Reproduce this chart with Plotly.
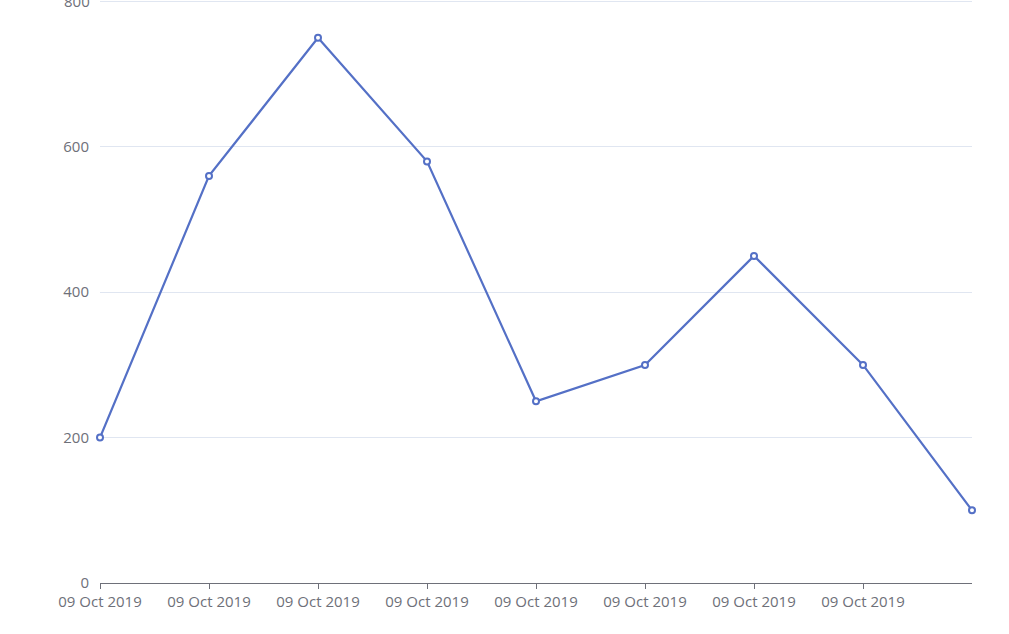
from plotly import graph_objects as go

CONFIG = {"displayModeBar": False}

LINE_BLUE = "#5470C6"
AXIS_GRAY = "#6E7079"
GRID_GRAY = "#E0E6F1"
WHITE = "#FFFFFF"
FONT_SIZE = 15

# Data
positions = [0, 1, 2, 3, 4, 5, 6, 7, 8]
values = [200, 560, 750, 580, 250, 300, 450, 300, 100]
tick_positions = [0, 1, 2, 3, 4, 5, 6, 7]
tick_labels = ["09 Oct 2019"] * 8
y_ticks = [0, 200, 400, 600, 800]

fig = go.Figure()
fig.add_trace(
    go.Scatter(
        x=positions,
        y=values,
        mode="lines+markers",
        line=dict(color=LINE_BLUE, width=2.2),
        marker=dict(
            symbol="circle",
            size=6,
            color=WHITE,
            line=dict(color=LINE_BLUE, width=2),
        ),
        cliponaxis=False,
        showlegend=False,
    )
)

fig.update_xaxes(
    range=[0, 8],
    tickmode="array",
    tickvals=tick_positions,
    ticktext=tick_labels,
    ticks="outside",
    ticklen=5,
    tickcolor=AXIS_GRAY,
    showline=True,
    linecolor=AXIS_GRAY,
    linewidth=1,
    showgrid=False,
    zeroline=False,
    tickfont=dict(size=FONT_SIZE, color=AXIS_GRAY),
)
# top of range nudged just past 800 so its grid line is kept
fig.update_yaxes(
    range=[0, 802],
    tickmode="array",
    tickvals=y_ticks,
    showgrid=True,
    gridcolor=GRID_GRAY,
    gridwidth=1,
    showline=False,
    zeroline=False,
    ticks="",
    ticklabelstandoff=10,
    tickfont=dict(size=FONT_SIZE, color=AXIS_GRAY),
)

# plotly drops the 800 label at the page edge, so place it by hand
# (the reference shows it half cut off at the top as well)
fig.add_annotation(
    text=str(y_ticks[-1]),
    xref="paper",
    x=0,
    yref="y",
    y=y_ticks[-1],
    xanchor="right",
    yanchor="middle",
    xshift=-8,
    showarrow=False,
    font=dict(size=FONT_SIZE, color=AXIS_GRAY),
)

fig.update_layout(
    font_family="Open Sans",
    plot_bgcolor=WHITE,
    paper_bgcolor=WHITE,
    width=1009,
    height=634,
    margin=dict(l=100, r=37, t=0, b=51),
)

fig.write_html(
    "out.html",
    config=CONFIG,
    post_script="document.body.style.margin='0';",
)
